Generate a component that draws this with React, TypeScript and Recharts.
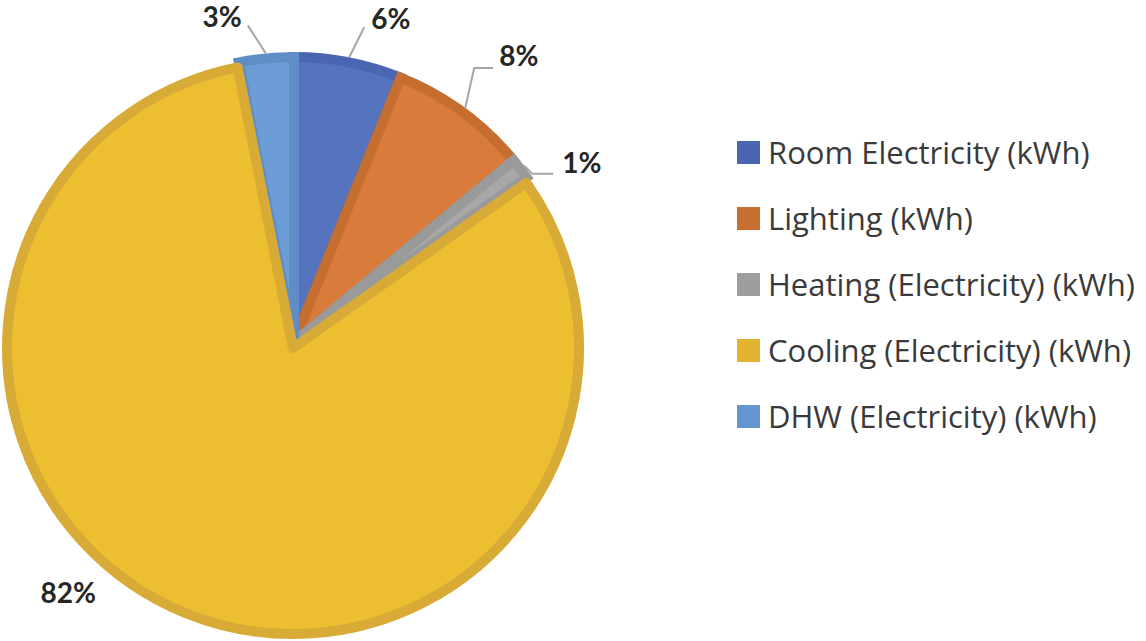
import { PieChart, Pie, Cell, Legend } from 'recharts';

// share of annual electricity use (%)
const categories = [
  'Room Electricity (kWh)',
  'Lighting (kWh)',
  'Heating (Electricity) (kWh)',
  'Cooling (Electricity) (kWh)',
  'DHW (Electricity) (kWh)',
];
const shares = [6.1, 7.9, 1.2, 81.7, 3.1];

const fills = ['#5674BE', '#D97B3A', '#A8A8A8', '#EEBE31', '#6C9DD6'];
const strokes = ['#4A66B1', '#C66E30', '#9A9A9A', '#D7AB36', '#5F8DC6'];
const legendColors = ['#4A66B1', '#C8702F', '#9E9E9E', '#E2B331', '#6495CF'];

const data = categories.map((name, i) => ({ name, value: shares[i] }));

const EXPLODED = 'Cooling (Electricity) (kWh)';

// leader line / text placement per slice, relative to the slice edge point
const labelLayout: Record<string, { line: [number, number]; tail: number; text: [number, number]; anchor: 'start' | 'end' }> = {
  'Room Electricity (kWh)': { line: [15, -30], tail: 0, text: [7, 2], anchor: 'start' },
  'Lighting (kWh)': { line: [9, -40], tail: 19, text: [6, -2], anchor: 'start' },
  'Heating (Electricity) (kWh)': { line: [8, 8], tail: 21, text: [9, -1], anchor: 'start' },
  'Cooling (Electricity) (kWh)': { line: [0, 0], tail: 0, text: [-89, -15], anchor: 'end' },
  'DHW (Electricity) (kWh)': { line: [-18, -28], tail: 0, text: [-6, 2], anchor: 'end' },
};

const RADIAN = Math.PI / 180;

function makeLabel(show: (name: string) => boolean) {
  return (props: any) => {
    const { cx, cy, midAngle, outerRadius, name, percent } = props;
    if (!show(name)) return null;
    const lay = labelLayout[name];
    const r = outerRadius + 5;
    const x0 = cx + r * Math.cos(-midAngle * RADIAN);
    const y0 = cy + r * Math.sin(-midAngle * RADIAN);
    const x1 = x0 + lay.line[0];
    const y1 = y0 + lay.line[1];
    const x2 = x1 + lay.tail;
    const hasLine = lay.line[0] !== 0 || lay.line[1] !== 0;
    return (
      <g>
        {hasLine && (
          <polyline
            points={`${x0},${y0} ${x1},${y1} ${x2},${y1}`}
            fill="none"
            stroke="#A6A6A6"
            strokeWidth={2}
          />
        )}
        <text
          x={x2 + lay.text[0]}
          y={y1 + lay.text[1]}
          textAnchor={lay.anchor}
          fill="#262626"
          fontFamily="Lato, sans-serif"
          fontWeight="bold"
          fontSize={28}
        >
          {`${Math.round(percent * 100)}%`}
        </text>
      </g>
    );
  };
}

function LegendList() {
  return (
    <div>
      {categories.map((name, i) => (
        <div key={name} style={{ display: 'flex', alignItems: 'center', height: 66 }}>
          <span
            style={{
              width: 23,
              height: 23,
              background: legendColors[i],
              display: 'inline-block',
              marginRight: 8,
            }}
          />
          <span
            style={{
              fontFamily: '"Open Sans", sans-serif',
              fontSize: 31,
              color: '#3A3A3A',
              whiteSpace: 'nowrap',
              lineHeight: '31px',
            }}
          >
            {name}
          </span>
        </div>
      ))}
    </div>
  );
}

export default function App() {
  return (
    <div style={{ position: 'absolute', left: 0, top: 0, width: 1146, height: 641, background: '#fff' }}>
      <PieChart width={1146} height={641} margin={{ top: 0, right: 0, bottom: 0, left: 0 }}>
        <Pie
          data={data}
          dataKey="value"
          nameKey="name"
          cx={294}
          cy={342}
          outerRadius={285}
          startAngle={90}
          endAngle={-270}
          isAnimationActive={false}
          strokeWidth={10}
          label={makeLabel((n) => n !== EXPLODED)}
          labelLine={false}
        >
          {data.map((d, i) => (
            <Cell
              key={`c-${i}`}
              fill={d.name === EXPLODED ? 'none' : fills[i]}
              stroke={d.name === EXPLODED ? 'none' : strokes[i]}
            />
          ))}
        </Pie>
        <Pie
          data={data}
          dataKey="value"
          nameKey="name"
          cx={293}
          cy={348}
          outerRadius={286}
          startAngle={90}
          endAngle={-270}
          isAnimationActive={false}
          strokeWidth={10}
          legendType="none"
          label={makeLabel((n) => n === EXPLODED)}
          labelLine={false}
        >
          {data.map((d, i) => (
            <Cell
              key={`e-${i}`}
              fill={d.name === EXPLODED ? fills[i] : 'none'}
              stroke={d.name === EXPLODED ? strokes[i] : 'none'}
              strokeLinejoin="round"
            />
          ))}
        </Pie>
        <Legend
          layout="vertical"
          align="right"
          verticalAlign="top"
          content={() => <LegendList />}
          wrapperStyle={{ left: 737, top: 119, width: 409 }}
        />
      </PieChart>
    </div>
  );
}
